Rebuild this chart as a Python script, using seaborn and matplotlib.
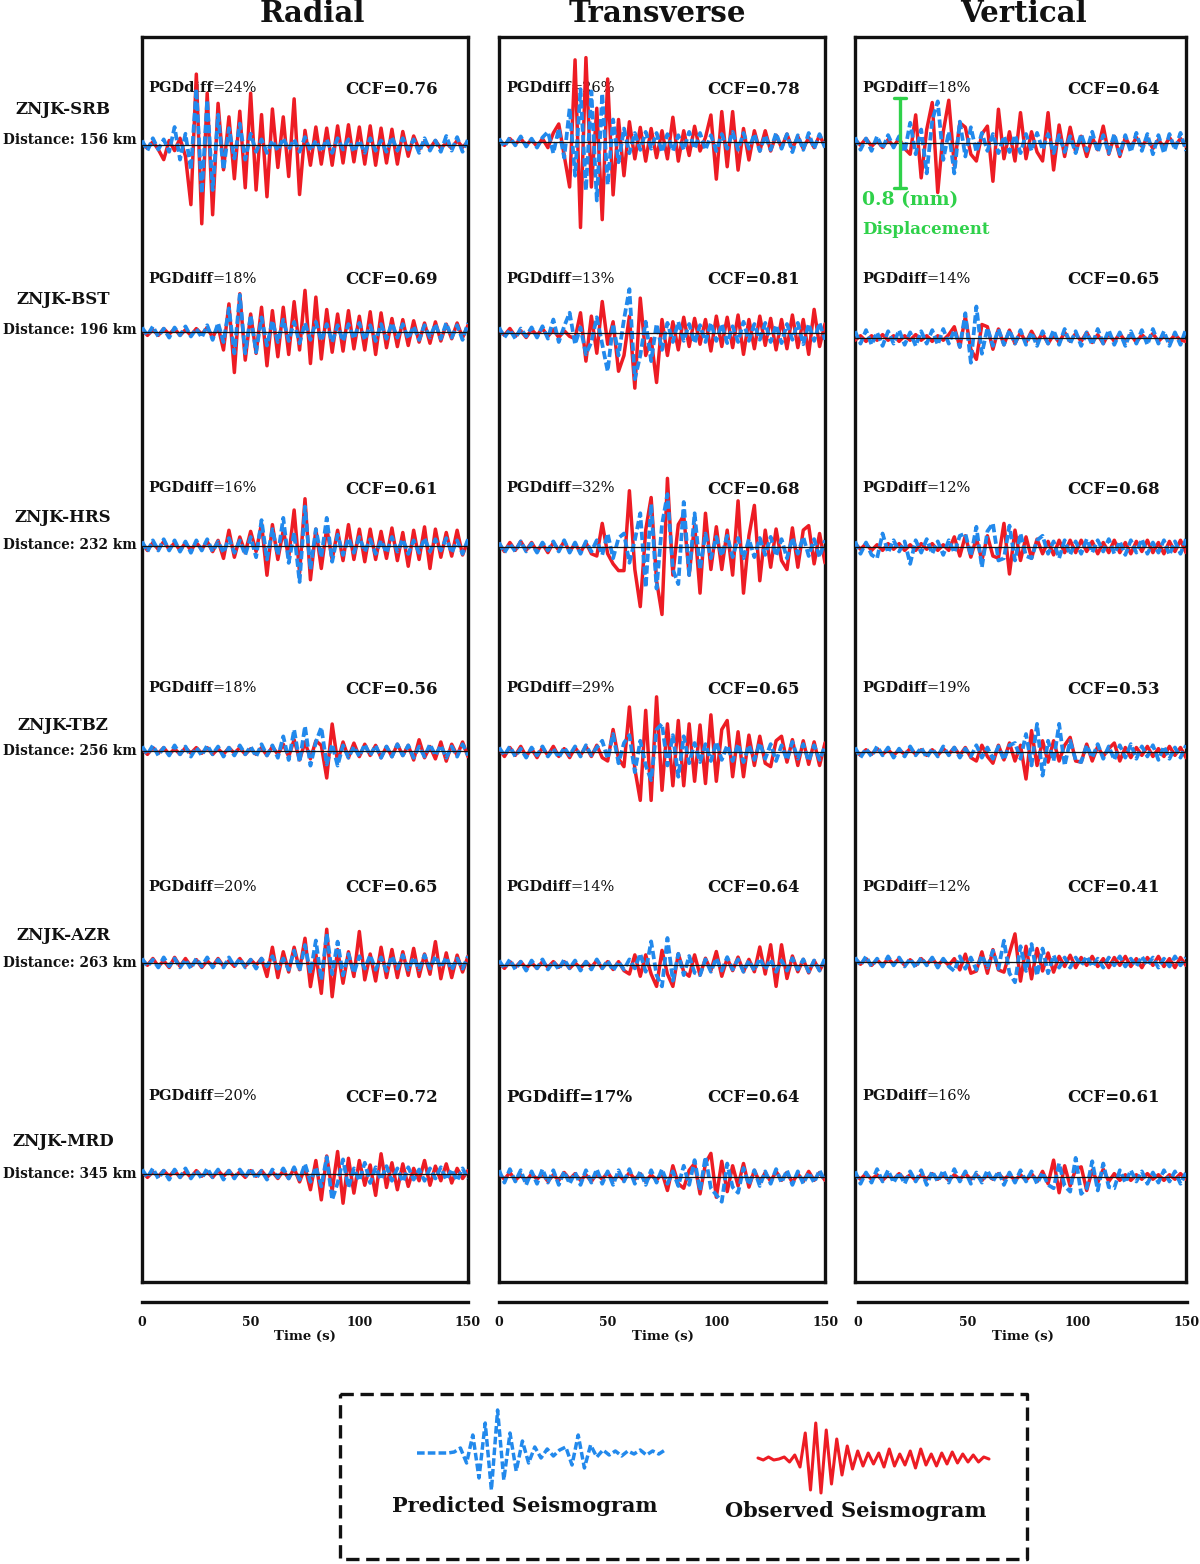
import numpy as np
import matplotlib
matplotlib.use("Agg")
import matplotlib.pyplot as plt
import seaborn as sns

# ── Data (amplitudes in 0.01 mm, sampled every 2.5 s over 0-150 s) ───────────
components = ["Radial", "Transverse", "Vertical"]
stations = ["ZNJK-SRB", "ZNJK-BST", "ZNJK-HRS", "ZNJK-TBZ", "ZNJK-AZR", "ZNJK-MRD"]
distances_km = [156, 196, 232, 256, 263, 345]

pgd_radial = [24, 18, 16, 18, 20, 20]
pgd_transverse = [26, 13, 32, 29, 14, 17]
pgd_vertical = [18, 14, 12, 19, 12, 16]
ccf_radial = [0.76, 0.69, 0.61, 0.56, 0.65, 0.72]
ccf_transverse = [0.78, 0.81, 0.68, 0.65, 0.64, 0.64]
ccf_vertical = [0.64, 0.65, 0.68, 0.53, 0.41, 0.61]

time_ticks = [0, 50, 100, 150]
duration_s = 150
scale_mm = 0.8

# Radial
rad_obs_srb = [2, -3, 3, -4, -13, 4, -5, 6, -10, -53,
               63, -70, 46, -62, 37, -22, 25, -30, 30, -38,
               46, -40, 27, -46, 32, -20, 25, -28, 41, -44,
               13, -18, 16, -17, 15, -18, 17, -16, 18, -15,
               16, -17, 17, -18, 15, -16, 14, -17, 12, -10,
               8, -4, 3, -3, 4, -3, 2, -3, 4, -2, 3]
rad_pre_srb = [4, -5, 6, -4, 5, -6, 16, -13, 10, -22,
               50, -43, 40, -40, 27, -22, 15, -12, 19, -13,
               10, -6, 5, -7, 4, -5, 6, -4, 5, -6,
               7, -5, 4, -6, 5, -7, 6, -4, 5, -6,
               4, -7, 6, -5, 4, -6, 7, -5, 6, -4,
               5, -7, 6, -5, 4, -6, 8, -5, 7, -6, 5]
rad_obs_bst = [2, -3, 2, -3, 3, -2, 3, -3, 2, -3,
               3, -2, 4, -5, 5, -16, 25, -36, 34, -25,
               16, -19, 22, -30, 19, -22, 22, -20, 27, -16,
               37, -28, 31, -24, 20, -18, 16, -17, 19, -15,
               14, -16, 18, -20, 17, -14, 12, -13, 11, -12,
               10, -9, 8, -10, 9, -8, 7, -6, 8, -5, 6]
rad_pre_bst = [4, -3, 5, -4, 3, -5, 4, -3, 5, -4,
               3, -5, 6, -7, 8, -9, 21, -19, 33, -19,
               15, -18, 13, -12, 10, -9, 11, -8, 9, -10,
               8, -7, 9, -8, 7, -9, 6, -8, 7, -6,
               8, -7, 6, -8, 7, -6, 8, -5, 7, -6,
               5, -7, 6, -5, 7, -6, 8, -5, 6, -7, 8]
rad_obs_hrs = [3, -4, 3, -3, 4, -3, 3, -4, 3, -4,
               3, -3, 4, -5, 5, -11, 14, -10, 8, -6,
               13, -5, 20, -26, 19, -12, 14, -10, 32, -24,
               42, -30, 15, -20, 16, -12, 14, -13, 19, -12,
               15, -14, 15, -12, 13, -11, 16, -13, 12, -18,
               14, -12, 17, -20, 15, -10, 12, -9, 14, -8, 5]
rad_pre_hrs = [4, -5, 5, -4, 6, -4, 5, -5, 4, -6,
               5, -4, 6, -5, 4, -6, 7, -6, 5, -8,
               8, -10, 23, -12, 15, -8, 25, -15, 12, -32,
               35, -21, 15, -10, 25, -14, 10, -8, 7, -6,
               8, -5, 6, -7, 5, -6, 8, -5, 6, -7,
               5, -6, 7, -5, 6, -4, 7, -6, 5, -7, 6]
rad_obs_tbz = [2, -3, 3, -2, 3, -3, 2, -3, 3, -2,
               3, -2, 3, -3, 2, -3, 3, -2, 3, -3,
               2, -3, 3, -4, 4, -3, 6, -5, 10, -8,
               8, -7, 9, 5, -24, 24, -10, 8, -6, 7,
               -5, 6, -4, 5, -6, 4, -5, 6, -4, 5,
               -8, 10, -6, 4, -7, 8, -9, 6, -4, 8, -5]
rad_pre_tbz = [4, -3, 5, -4, 3, -4, 5, -3, 4, -5,
               3, -4, 5, -3, 4, -5, 3, -4, 5, -3,
               4, -5, 6, -4, 5, -6, 13, -8, 19, -10,
               22, -13, 8, 21, -12, 6, -13, 5, -6, 4,
               -5, 6, -4, 5, -6, 4, -5, 6, -4, 5,
               -6, 4, -5, 6, -4, 5, -6, 4, -5, 6, -4]
rad_obs_azr = [3, -2, 4, -3, 2, -4, 5, -3, 4, -3,
               3, -4, 2, -3, 4, -3, 2, -3, 4, -3,
               3, -2, 4, -12, 14, -13, 10, -8, 14, -6,
               22, -21, 8, -27, 30, -30, 12, -18, 10, -12,
               28, -15, 8, -16, 14, -13, 12, -13, 10, -11,
               13, -12, 8, -10, 19, -14, 9, -13, 7, -8, 6]
rad_pre_azr = [4, -3, 3, -4, 5, -3, 4, -4, 3, -5,
               4, -3, 5, -4, 3, -4, 5, -3, 4, -4,
               3, -5, 4, -3, 6, -5, 4, -6, 11, -7,
               16, -9, 20, -15, 26, -10, 19, -11, 8, -9,
               6, -5, 7, -6, 5, -7, 6, -5, 7, -6,
               5, -6, 7, -5, 6, -4, 5, -6, 4, -5, 6]
rad_obs_mrd = [2, -3, 2, -2, 3, -2, 3, -3, 2, -3,
               3, -2, 2, -3, 3, -2, 3, -3, 2, -3,
               3, -2, 3, -3, 2, -4, 3, -4, 5, -7,
               6, -14, 12, -23, 16, -15, 20, -26, 14, -17,
               12, -10, 8, -19, 18, -12, 10, -14, 9, -11,
               5, -6, 12, -10, 7, -6, 9, -8, 5, -4, 3]
rad_pre_mrd = [4, -3, 5, -4, 3, -5, 4, -3, 5, -4,
               3, -4, 5, -3, 4, -5, 3, -4, 4, -3,
               5, -4, 3, -5, 4, -3, 5, -4, 6, -5,
               9, -7, 6, -11, 15, -23, -8, 13, -12, 5,
               -6, 10, -8, 6, -5, 7, -6, 5, -7, 6,
               -5, 4, -6, 5, -4, 6, -5, 4, -6, 5, -4]

# Transverse
tra_obs_srb = [2, -3, 3, -2, 3, -3, 2, -4, 3, -5,
               8, 16, -12, -40, 73, -76, 75, -40, 30, -69,
               56, -47, 20, -30, 18, -15, 13, -17, 12, -14,
               10, -15, 22, -17, 10, -12, 14, -8, 4, 24,
               -33, 27, -22, 27, -25, 12, -16, 10, -8, 10,
               -8, 6, -5, 7, -6, 5, -6, 4, -5, 6, -4]
tra_pre_srb = [3, -4, 4, -3, 5, -4, 3, -5, 4, 9,
               -10, 12, -14, 30, -30, 47, -43, 45, -52, 43,
               -38, 20, -18, 12, -10, 8, -7, 9, -6, 8,
               -9, 7, -8, 6, -7, 9, -6, 8, -7, 6,
               -8, 7, -6, 9, -7, 8, -6, 7, -8, 6,
               -7, 8, -6, 7, -9, 6, -7, 8, -6, 7, -5]
tra_obs_bst = [3, -2, 4, -3, 2, -4, 3, -2, 4, -3,
               3, -4, 2, -3, -5, 18, -25, 15, -18, 28,
               -10, 10, -34, -20, 15, -49, 31, -20, -5, -44,
               12, -20, 10, -15, 14, -12, 13, -10, 12, -16,
               15, -12, 14, -13, 16, -19, 12, -14, 15, -11,
               13, -15, 12, -14, 16, -13, 12, -19, 21, -12, 8]
tra_pre_bst = [5, -4, 3, -5, 4, -3, 5, -4, 6, -5,
               12, -8, 6, 18, -10, 5, -19, -8, 14, -10,
               -34, 8, -20, 12, 39, -41, -20, 10, -25, 8,
               -15, 9, -8, 10, -7, 8, -9, 7, -8, 9,
               -7, 8, -9, 6, -8, 10, -7, 8, -6, 9,
               -8, 7, -9, 8, -6, 9, -10, 8, -7, 9, -6]
tra_obs_hrs = [3, -4, 4, -3, 5, -3, 4, -4, 3, -5,
               4, -3, 5, -4, 3, -5, 4, -6, -8, 21,
               -6, -15, -21, -21, 50, -20, -53, 15, 44, -30,
               -60, 61, -25, 20, 28, -25, 20, -41, 30, -20,
               18, -20, 15, -25, 41, -41, 10, 37, -30, 15,
               -18, 16, -12, -20, 17, -18, 15, 19, -15, 12, -14]
tra_pre_hrs = [4, -5, 3, -4, 5, -4, 3, -5, 4, -3,
               5, -4, 6, -5, 4, -6, 5, -4, 6, -7,
               12, -10, 8, 12, -14, 6, 30, -36, 38, -37,
               20, 47, -20, -33, 40, -25, 30, -20, 12, -10,
               9, -8, 10, -9, 8, -10, 7, -9, 8, -7,
               9, -8, 7, -10, 8, -6, 9, -8, 7, -9, 6]
tra_obs_tbz = [3, -4, 4, -3, 5, -4, 3, -5, 4, -3,
               5, -4, 3, -5, 4, -3, 5, -4, 6, -5,
               -8, 20, -6, -13, 40, -15, -43, 37, -43, 49,
               -34, 25, -30, 28, -30, 25, -26, 24, -28, 33,
               -26, 20, 28, -22, 18, -22, 15, -12, 14, -10,
               -13, 10, 14, -9, 11, -12, 10, -11, 9, -12, 8]
tra_pre_tbz = [4, -3, 5, -4, 3, -5, 4, -3, 5, -4,
               3, -5, 4, -3, 5, -4, 6, -3, 4, 10,
               -6, 16, -10, 8, 15, -18, 10, -12, -25, 20,
               25, -12, 15, -22, 14, -10, 8, -9, 7, -8,
               9, -7, 6, -8, 7, -9, 6, -7, 8, -6,
               7, -8, 6, -7, 9, -6, 7, -8, 6, -7, 5]
tra_obs_azr = [2, -3, 3, -2, 3, -3, 2, -3, 3, -2,
               3, -2, 3, -3, 2, -3, 3, -2, 4, -3,
               3, -4, 3, -5, -8, 9, -10, 9, -8, -19,
               13, -8, -19, 10, -6, -10, 9, -9, 6, -5,
               12, -10, 6, -5, 7, -6, 5, -6, 16, -8,
               18, -19, 18, -12, 8, -6, 5, -7, 4, -5, 4]
tra_pre_azr = [4, -3, 5, -4, 3, -5, 4, -3, 5, -4,
               3, -4, 5, -3, 4, -5, 3, -4, 5, -3,
               4, -5, 3, -4, 5, -3, 10, -6, 21, -9,
               -19, 24, -14, 10, -9, 8, -7, -9, 5, -6,
               6, -5, 7, -4, 5, -6, 4, -5, 6, -4,
               5, -6, 4, -5, 6, -4, 5, -6, 4, -5, 6]
tra_obs_mrd = [3, -2, 4, -3, 2, -4, 3, -2, 3, -4,
               2, -3, 4, -2, 3, -3, 2, -4, 3, -2,
               4, -3, 2, -3, 4, -2, 3, -4, 2, -3,
               4, -12, 10, -6, -10, 6, 12, -15, 12, 21,
               -18, 14, -13, 10, -8, 12, -9, 6, -5, 4,
               -4, 5, -3, 4, -5, 3, -4, 5, -3, 4, -3]
tra_pre_mrd = [6, -5, 7, -4, 6, -7, 5, -6, 7, -5,
               6, -7, 5, -6, 4, -7, 6, -5, 7, -6,
               5, -7, 6, -4, 7, -6, 5, -7, 6, -5,
               7, -6, 5, -8, 10, -7, 15, -12, 18, -10,
               -16, -22, 12, -9, -14, 8, -7, 6, -8, 5,
               -6, 7, -5, 6, -7, 5, -6, 4, -5, 6, -4]

# Vertical
ver_obs_srb = [3, -2, 4, -3, 2, -4, 3, -3, 4, -5,
               -10, 25, -31, 12, 36, -44, 10, 38, -20, 18,
               14, -10, -16, 8, 15, -34, 30, -14, 10, -16,
               27, -14, 10, -8, -16, 27, -24, 16, -12, 14,
               -8, 6, -12, 5, -6, 15, -10, 6, -12, 5,
               -4, 5, -3, 4, -5, 3, -4, 5, -3, 4, -3]
ver_pre_srb = [5, -6, 4, -7, 6, -5, 7, -4, 6, -8,
               18, -10, 12, -27, 20, 37, -15, 10, -27, 19,
               -12, 14, -8, 9, -7, 8, -9, 6, -8, 7,
               -9, 8, -7, 9, -6, 8, -9, 7, -8, 6,
               -9, 8, -7, 10, -8, 7, -9, 8, -10, 7,
               -8, 9, -7, 8, -10, 7, -9, 8, -6, 9, -7]
ver_obs_bst = [-2, 2, -3, 2, -2, 3, -2, 2, -3, 2,
               -2, 3, -2, 2, -3, 2, -2, 3, 10, -8,
               19, -10, -19, 12, 10, -10, 8, -6, 7, -5,
               5, -4, 6, -3, 4, -5, 3, -4, 5, -3,
               4, -3, 5, -4, 3, -5, 4, -3, 4, -3,
               3, -4, 3, -2, 4, -3, 2, -3, 3, -2, -3]
ver_pre_bst = [6, -5, 7, -6, 5, -7, 6, -5, 7, -6,
               5, -7, 6, -5, 7, -6, 8, -5, 7, -8,
               22, -22, 28, -14, 9, -7, 8, -6, 7, -5,
               7, -6, 5, -7, 6, -5, 7, -6, 8, -5,
               6, -7, 5, -6, 8, -5, 7, -6, 5, -7,
               6, -5, 7, -6, 8, -5, 6, -7, 5, -6, 8]
ver_obs_hrs = [3, -2, 3, -3, 2, -3, 3, -2, 3, -3,
               2, -3, 3, -2, 3, -3, 2, -3, 9, -8,
               10, -9, 8, -12, 10, -8, -10, 21, -24, 15,
               -12, 9, -10, 7, -6, 5, -7, 6, -5, 6,
               -5, 6, -4, 5, -6, 4, -5, 6, -5, 4,
               -6, 5, -4, 6, -5, 4, -6, 5, -4, 6, -5]
ver_pre_hrs = [5, -6, 4, -7, -10, 12, -5, 6, -4, 5,
               -15, 6, -5, 7, -6, 5, -7, 6, -5, 10,
               12, -8, 18, -18, 14, 21, -12, -10, 19, -12,
               12, -8, -10, 6, 10, -6, 5, -10, 6, -7,
               5, -6, 7, -5, 6, -4, 7, -6, 5, -7,
               6, -5, 7, -6, 4, -5, 6, -7, 5, -6, 7]
ver_obs_tbz = [2, -3, 2, -2, 3, -2, 2, -3, 2, -2,
               3, -2, 2, -3, 2, -3, 3, -2, 4, -3,
               4, -5, -8, 6, -4, -10, 6, -7, 8, -8,
               6, -24, 19, -12, 10, -9, 10, -8, 6, 13,
               -8, -9, 7, -8, 5, -4, 3, 8, -8, 4,
               -5, 4, -3, 5, -4, 3, -4, 5, -3, 4, -5]
ver_pre_tbz = [4, -5, 3, -4, 5, -3, 4, -5, 3, -4,
               5, -3, 4, -5, 3, -4, 5, -3, 4, -5,
               3, -4, 6, -5, 4, -6, 5, -7, 6, 8,
               -6, 16, -12, 25, -21, 10, -8, 25, -12, 10,
               -7, -9, 6, -5, 7, -6, 5, -7, 6, -5,
               7, -6, 5, -4, 6, -7, 5, -6, 4, -5, 6]
ver_obs_azr = [3, -2, 3, -3, 2, -3, 3, -2, 3, -3,
               2, -3, 3, -2, 3, -3, 2, -3, 3, -7,
               7, -10, -8, 9, -10, 11, -7, -9, 8, 25,
               -17, 14, -15, 12, -8, 8, -9, 5, -4, 6,
               -5, 4, -3, 5, -4, 3, -5, 4, -3, 5,
               -4, 3, -5, 4, -3, 5, -4, 3, -5, 4, -3]
ver_pre_azr = [4, -3, 5, -4, 3, -4, 5, -3, 4, -4,
               3, -5, 4, -3, 4, -5, 3, -4, -8, 5,
               -6, 4, -7, 6, -5, 10, -6, 19, -10, -18,
               14, -8, 16, -12, 12, -10, 6, -5, 4, -5,
               4, -3, 5, -4, 3, -5, 4, -3, 5, -4,
               3, -4, 5, -3, 4, -5, 3, -4, 5, -3, 4]
ver_obs_mrd = [2, -2, 3, -2, 2, -3, 2, -2, 3, -2,
               2, -3, 2, -2, 3, -2, 2, -3, 2, -2,
               3, -2, 2, -3, 2, -2, 3, -2, 2, -3,
               2, -3, 3, -4, 5, -6, 15, -14, 10, -8,
               7, 9, -12, 6, -5, 7, -4, 3, -3, 2,
               -3, 2, -2, 3, -2, 2, -3, 2, -2, 3, -2]
ver_pre_mrd = [5, -6, 4, -5, 7, -4, 6, -5, 4, -6,
               5, -4, 6, -7, 5, -4, 6, -5, 7, -4,
               5, -6, 4, -5, 6, -4, 5, -7, 4, -5,
               6, -4, 5, -6, 4, -7, -10, 12, -8, -13,
               17, -15, -10, 14, -12, 12, -9, -10, 6, -5,
               6, -4, 5, -6, 4, -5, 6, -4, 5, -6, 4]

# legend icons (deflection in px)
legend_pred = [0, 0, 0, 0, 0, 0, 1, 5, -10, 18, -25, 30, -37, 43, -27, 20, -18,
               12, -10, 6, -5, 4, -3, 3, 6, -12, 18, -15, 8, -4, 3, -2, 2, -3,
               2, -1, 3, -2, 2, -1, 3]
legend_obs = [1, -1, 2, -1, 0, 2, -3, 4, -8, 26, -31, 36, -34, 29, -25, 20,
              -16, 13, -10, 8, -7, 6, -5, 6, -8, 10, -7, 5, -6, 8, -9, 10, -6,
              5, -7, 6, -5, 7, -4, 5, -3, 4, -3, 2, 0]

observed = [
    [rad_obs_srb, rad_obs_bst, rad_obs_hrs, rad_obs_tbz, rad_obs_azr, rad_obs_mrd],
    [tra_obs_srb, tra_obs_bst, tra_obs_hrs, tra_obs_tbz, tra_obs_azr, tra_obs_mrd],
    [ver_obs_srb, ver_obs_bst, ver_obs_hrs, ver_obs_tbz, ver_obs_azr, ver_obs_mrd],
]
predicted = [
    [rad_pre_srb, rad_pre_bst, rad_pre_hrs, rad_pre_tbz, rad_pre_azr, rad_pre_mrd],
    [tra_pre_srb, tra_pre_bst, tra_pre_hrs, tra_pre_tbz, tra_pre_azr, tra_pre_mrd],
    [ver_pre_srb, ver_pre_bst, ver_pre_hrs, ver_pre_tbz, ver_pre_azr, ver_pre_mrd],
]
pgd_all = [pgd_radial, pgd_transverse, pgd_vertical]
ccf_all = [ccf_radial, ccf_transverse, ccf_vertical]

# ── Layout (pixels) ───────────────────────────────────────────────────────────
W, H = 1200, 1564
PX_PER_MM = 112.5
PANEL_X = [(142, 468), (499, 825), (855, 1186)]
PANEL_TOP, PANEL_BOTTOM = 37, 1282
AXIS_X = [(142, 468), (499, 826), (858, 1187)]
AXIS_Y = 1302
BASELINES = [[145, 332, 546, 751, 963, 1174],
             [142, 333, 547, 752, 965, 1177],
             [143, 338, 547, 752, 962, 1177]]
TITLE_X = [312, 657, 1024]
LABEL_Y = [88, 279, 488, 688, 887, 1096]
PGD_X = [148, 506, 862]
CCF_X = [438, 800, 1160]
NAME_Y = [110, 300, 518, 726, 936, 1142]
DIST_Y = [140, 330, 545, 751, 963, 1174]

RED = "#ed1c24"
BLUE = "#2289ec"
GREEN = "#2fd14a"
INK = "#111111"
DASH = (0, (2.2, 0.9))

sns.set_theme(style="white")
plt.rcParams["font.family"] = ["DejaVu Serif", "DejaVu Sans"]
plt.rcParams["font.weight"] = "bold"
plt.rcParams["text.color"] = INK
plt.rcParams["axes.labelcolor"] = INK
plt.rcParams["xtick.color"] = INK

fig = plt.figure(figsize=(W / 100, H / 100), dpi=100)


def px_axes(x0, y0, x1, y1):
    return fig.add_axes([x0 / W, 1 - y1 / H, (x1 - x0) / W, (y1 - y0) / H])


# overlay in pixel coordinates for free text
ov = fig.add_axes([0, 0, 1, 1], zorder=10)
ov.set_xlim(0, W)
ov.set_ylim(H, 0)
ov.axis("off")

for c in range(3):
    x0, x1 = PANEL_X[c]
    ax = px_axes(x0, PANEL_TOP, x1, PANEL_BOTTOM)
    ax.set_xlim(0, duration_s)
    ax.set_ylim(PANEL_BOTTOM, PANEL_TOP)
    ax.set_xticks([])
    ax.set_yticks([])
    for sp in ax.spines.values():
        sp.set_visible(True)
        sp.set_color(INK)
        sp.set_linewidth(2.4)

    for r in range(6):
        base = BASELINES[c][r]
        obs = np.asarray(observed[c][r], dtype=float) / 100.0
        pre = np.asarray(predicted[c][r], dtype=float) / 100.0
        t_obs = np.linspace(0, duration_s, len(obs))
        t_pre = np.linspace(0, duration_s, len(pre))
        sns.lineplot(x=t_obs, y=base - obs * PX_PER_MM, ax=ax, color=RED,
                     linewidth=2.5, errorbar=None, sort=False, legend=False, zorder=3)
        sns.lineplot(x=t_pre, y=base - pre * PX_PER_MM, ax=ax, color=BLUE,
                     linewidth=2.7, linestyle=DASH, errorbar=None, sort=False,
                     legend=False, zorder=4)
        ax.axhline(base, color=INK, linewidth=0.9, zorder=5)

        # PGD / CCF labels
        big = (c == 1 and r == 5)
        if big:
            ax.text(PGD_X[c], LABEL_Y[r] + 2, f"PGDdiff={pgd_all[c][r]}%",
                    transform=ov.transData, fontsize=12, fontweight="bold",
                    ha="left", va="center", zorder=1)
        else:
            t1 = ax.text(PGD_X[c], LABEL_Y[r], "PGDdiff", transform=ov.transData,
                         fontsize=10.5, fontweight="bold", ha="left", va="center",
                         zorder=1)
            ax.annotate(f"={pgd_all[c][r]}%", xy=(1, 0.5), xycoords=t1,
                        fontsize=10.5, fontweight="medium", ha="left",
                        va="center", zorder=1)
        ax.text(CCF_X[c], LABEL_Y[r] + 1, f"CCF={ccf_all[c][r]:.2f}",
                transform=ov.transData, fontsize=12, fontweight="bold",
                ha="right", va="center", zorder=1)

    ov.text(TITLE_X[c], 14, components[c], fontsize=21, fontweight="bold",
            ha="center", va="center")

    # time axis
    a0, a1 = AXIS_X[c]
    tax = px_axes(a0, AXIS_Y - 0.5, a1, AXIS_Y)
    tax.set_xlim(0, duration_s)
    tax.set_yticks([])
    tax.set_xticks(time_ticks)
    tax.set_xticklabels([str(v) for v in time_ticks], fontsize=9, fontweight="bold")
    tax.tick_params(axis="x", length=0, pad=10)
    tax.patch.set_visible(False)
    sns.despine(ax=tax, left=True, top=True, right=True)
    tax.spines["bottom"].set_linewidth(2.4)
    tax.spines["bottom"].set_color(INK)
    tax.set_xlabel("Time (s)", fontsize=9.5, fontweight="bold", labelpad=1)

# station names and distances
for r in range(6):
    ov.text(63, NAME_Y[r], stations[r], fontsize=12, fontweight="bold",
            ha="center", va="center")
    ov.text(137, DIST_Y[r], f"Distance: {distances_km[r]} km", fontsize=9.8,
            fontweight="bold", ha="right", va="center")

# displacement scale bar (vertical SRB panel)
bar_x = 900
half = scale_mm / 2 * PX_PER_MM
yb = BASELINES[2][0]
ov.plot([bar_x, bar_x], [yb - half, yb + half], color=GREEN, lw=2.4)
ov.plot([bar_x - 6, bar_x + 6], [yb - half, yb - half], color=GREEN, lw=2.4)
ov.plot([bar_x - 6, bar_x + 6], [yb + half, yb + half], color=GREEN, lw=2.4)
ov.text(862, 200, f"{scale_mm} (mm)", color=GREEN, fontsize=13.5,
        fontweight="bold", ha="left", va="center")
ov.text(862, 229, "Displacement", color=GREEN, fontsize=12,
        fontweight="bold", ha="left", va="center")

# legend box
ov.plot([340, 1027, 1027, 340, 340], [1394, 1394, 1559, 1559, 1394],
        color=INK, lw=2.4, linestyle=(0, (4, 2)))
lp = np.asarray(legend_pred, dtype=float)
sns.lineplot(x=np.linspace(417, 665, len(lp)), y=1453 - lp, ax=ov, color=BLUE,
             linewidth=2.5, linestyle=DASH, errorbar=None, sort=False, legend=False)
lo = np.asarray(legend_obs, dtype=float)
sns.lineplot(x=np.linspace(758, 989, len(lo)), y=1459 - lo, ax=ov, color=RED,
             linewidth=2.2, errorbar=None, sort=False, legend=False)
ov.set_xlim(0, W)
ov.set_ylim(H, 0)
ov.text(525, 1506, "Predicted Seismogram", fontsize=15, fontweight="bold",
        ha="center", va="center")
ov.text(856, 1511, "Observed Seismogram", fontsize=15, fontweight="bold",
        ha="center", va="center")

fig.savefig("out.png", dpi=100)
